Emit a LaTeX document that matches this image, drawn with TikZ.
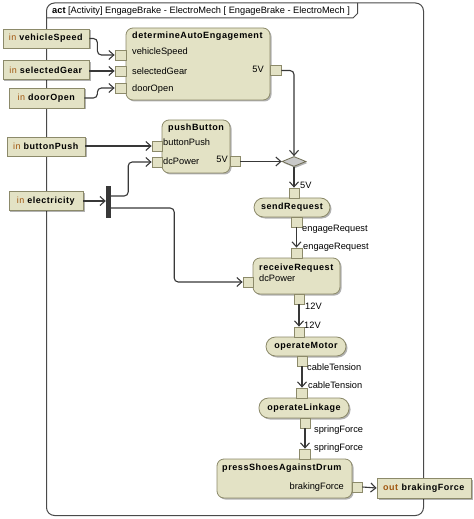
\documentclass[tikz,border=0pt]{standalone}
\usepackage{fontspec}
\setmainfont{Liberation Sans}
\newfontfamily\tb[LetterSpace=6]{Liberation Sans}
\usetikzlibrary{arrows.meta,shadows,calc,shapes.geometric}
\definecolor{nfill}{HTML}{E3E2C5}
\definecolor{bord}{HTML}{8C8A6A}
\definecolor{lcol}{HTML}{383838}
\definecolor{incol}{HTML}{A0560F}
\definecolor{frm}{HTML}{4A4A4A}
\definecolor{decfill}{HTML}{C9C9C9}
\tikzset{
  base/.style={draw=bord, fill=nfill, line width=0.8bp, inner sep=0pt},
  shad/.style={drop shadow={shadow xshift=1.5bp,shadow yshift=-1.5bp,opacity=0.3,fill=black}},
  actbox/.style={base, shad, rounded corners=7bp},
  pillbox/.style={base, shad, rounded corners=9.5bp, font=\tb\fontsize{9}{10}\selectfont\bfseries},
  pinbox/.style={base, minimum width=10bp, minimum height=10bp},
  param/.style={base, shad, minimum height=19bp, font=\tb\fontsize{9}{10}\selectfont},
  lbl/.style={font=\fontsize{9.3}{10}\selectfont, inner sep=0pt, text height=6.6bp, text depth=1.9bp},
  ttl/.style={font=\tb\fontsize{9.1}{10}\selectfont\bfseries, inner sep=0pt, text height=6.6bp, text depth=1.9bp},
  flow/.style={draw=lcol, line width=1.1bp, rounded corners=4bp, -{Straight Barb[length=5bp,width=9bp]}},
  frame/.style={draw=frm, line width=1bp},
}
\newcommand{\inp}[1]{{\color{incol}in} \textbf{#1}}
\begin{document}
\begin{tikzpicture}[x=1bp,y=-1bp]
\fill[white] (0,0) rectangle (474,519);
\useasboundingbox (0,0) rectangle (474,519);
% frame
\draw[frame, rounded corners=8bp] (46.5,3) rectangle (423.5,515.5);
\draw[frame] (46.5,18) -- (353,18) -- (357.5,13.5) -- (357.5,3);
\node[anchor=west, inner sep=0pt, font=\fontsize{9.3}{10}\selectfont] (hdr) at (52,11)
  {\textbf{act} [Activity] EngageBrake - ElectroMech [ EngageBrake - ElectroMech ]};

% input parameters
\node[param, minimum width=86bp] (inVS) at (46,38.5) {\inp{vehicleSpeed}};
\node[param, minimum width=86bp] (inSG) at (46,70) {\inp{selectedGear}};
\node[param, minimum width=75bp, minimum height=20bp] (inDO) at (46.5,98) {\inp{doorOpen}};
\node[param, minimum width=78bp] (inBP) at (46,146.5) {\inp{buttonPush}};
\node[param, minimum width=74bp] (inEl) at (46,201) {\inp{electricity}};

% determineAutoEngagement
\node[actbox, minimum width=144bp, minimum height=72bp] (dAE) at (198,64) {};
\node[pinbox, minimum width=11bp] (pVS) at (120.5,55) {};
\node[pinbox, minimum width=11bp] (pSG) at (120.5,71) {};
\node[pinbox, minimum width=11bp] (pDO) at (120.5,88) {};
\node[pinbox, minimum width=11bp] (pAO) at (275.5,70.5) {};
\node[ttl, anchor=west] (tAE) at (132,36) {determineAutoEngagement};
\node[lbl, anchor=west] (lVS) at (132,52.5) {vehicleSpeed};
\node[lbl, anchor=west] (lSG) at (132,72) {selectedGear};
\node[lbl, anchor=west] (lDO) at (132,89.5) {doorOpen};
\node[lbl, anchor=east] (lAO) at (264,70.5) {5V};

% pushButton
\node[actbox, minimum width=68bp, minimum height=53bp] (pB) at (196,146.5) {};
\node[pinbox] (pBP) at (157,146) {};
\node[pinbox] (pDC) at (157,162) {};
\node[pinbox] (pBO) at (235,161.5) {};
\node[ttl, anchor=west] (tPB) at (168,128) {pushButton};
\node[lbl, anchor=west] (lBP) at (163,143) {buttonPush};
\node[lbl, anchor=west] (lDC) at (163,162) {dcPower};
\node[lbl, anchor=east] (lBO) at (228,160) {5V};

% decision
\node[diamond, draw=bord!80!black, fill=decfill, line width=0.8bp, inner sep=0pt,
      minimum width=24bp, minimum height=10bp, shad] (dec) at (294,161.5) {};

% fork
\node[fill=lcol, draw=none, inner sep=0pt, minimum width=5bp, minimum height=32bp] (fork) at (108.5,202) {};

% sendRequest
\node[pillbox, minimum width=76bp, minimum height=19bp] (sR) at (292,207.5) {sendRequest};
\node[pinbox] (sRt) at (294,193) {};
\node[pinbox, minimum width=11bp] (sRb) at (296.5,222) {};
\node[lbl, anchor=west] (l5V) at (300,186) {5V};
\node[lbl, anchor=west] (lER1) at (302,229) {engageRequest};

% receiveRequest
\node[actbox, minimum width=87bp, minimum height=36bp] (rR) at (296.5,276) {};
\node[pinbox, minimum width=11bp] (rRt) at (296.5,253) {};
\node[pinbox] (rRl) at (248,282) {};
\node[pinbox] (rRb) at (299,299) {};
\node[ttl, anchor=west] (tRR) at (259,268) {receiveRequest};
\node[lbl, anchor=west] (lRD) at (259,279) {dcPower};
\node[lbl, anchor=west] (lER2) at (303,247) {engageRequest};
\node[lbl, anchor=west] (l12a) at (305,307.5) {12V};

% operateMotor
\node[pillbox, minimum width=80bp, minimum height=19bp] (oM) at (306,346.5) {operateMotor};
\node[pinbox] (oMt) at (299,332) {};
\node[pinbox] (oMb) at (302,361) {};
\node[lbl, anchor=west] (l12b) at (304,326) {12V};
\node[lbl, anchor=west] (lCT1) at (307,368) {cableTension};

% operateLinkage
\node[pillbox, minimum width=90bp, minimum height=20bp] (oL) at (304,408) {operateLinkage};
\node[pinbox, minimum width=11bp] (oLt) at (302,393) {};
\node[pinbox] (oLb) at (305,423) {};
\node[lbl, anchor=west] (lCT2) at (308,386) {cableTension};
\node[lbl, anchor=west] (lSF1) at (314,430) {springForce};

% pressShoesAgainstDrum
\node[actbox, minimum width=135bp, minimum height=39bp] (pS) at (284.5,478.5) {};
\node[pinbox, minimum width=11bp] (pSt) at (305,454) {};
\node[pinbox] (pSr) at (357,487) {};
\node[ttl, anchor=west] (tPS) at (222,468) {pressShoesAgainstDrum};
\node[lbl, anchor=east] (lBF) at (344,487) {brakingForce};
\node[lbl, anchor=west] (lSF2) at (314,448) {springForce};

% output parameter
\node[param, minimum width=94bp, minimum height=20bp] (outBF) at (424,488) {{\color{incol}\textbf{out}} \textbf{brakingForce}};

% connectors
\draw[flow] (inVS.east) -- ++(8,0) |- (pVS.west);
\draw[flow] (inSG.east |- pSG) -- (pSG.west);
\draw[flow] (inDO.east) -- ++(13,0) |- (pDO.west);
\draw[flow] (inBP.east |- pBP) -- (pBP.west);
\draw[flow] (inEl.east) -- (inEl.east -| fork.west);
\draw[flow] ($(fork.east)+(0,-6)$) -- ++(17,0) |- (pDC.west);
\draw[flow] ($(fork.east)+(0,6)$) -- ++(63,0) |- (rRl.west);
\draw[flow] (pAO.east) -| (dec.north);
\draw[flow] (pBO.east) -- (dec.west);
\draw[flow] (dec.south) -- (sRt.north);
\draw[flow] (sRb.south) -- (rRt.north);
\draw[flow] (rRb.south) -- (oMt.north);
\draw[flow] (oMb.south) -- (oLt.north);
\draw[flow] (oLb.south) -- (pSt.north);
\draw[flow] (pSr.east) -- (outBF.west);
\end{tikzpicture}
\end{document}
